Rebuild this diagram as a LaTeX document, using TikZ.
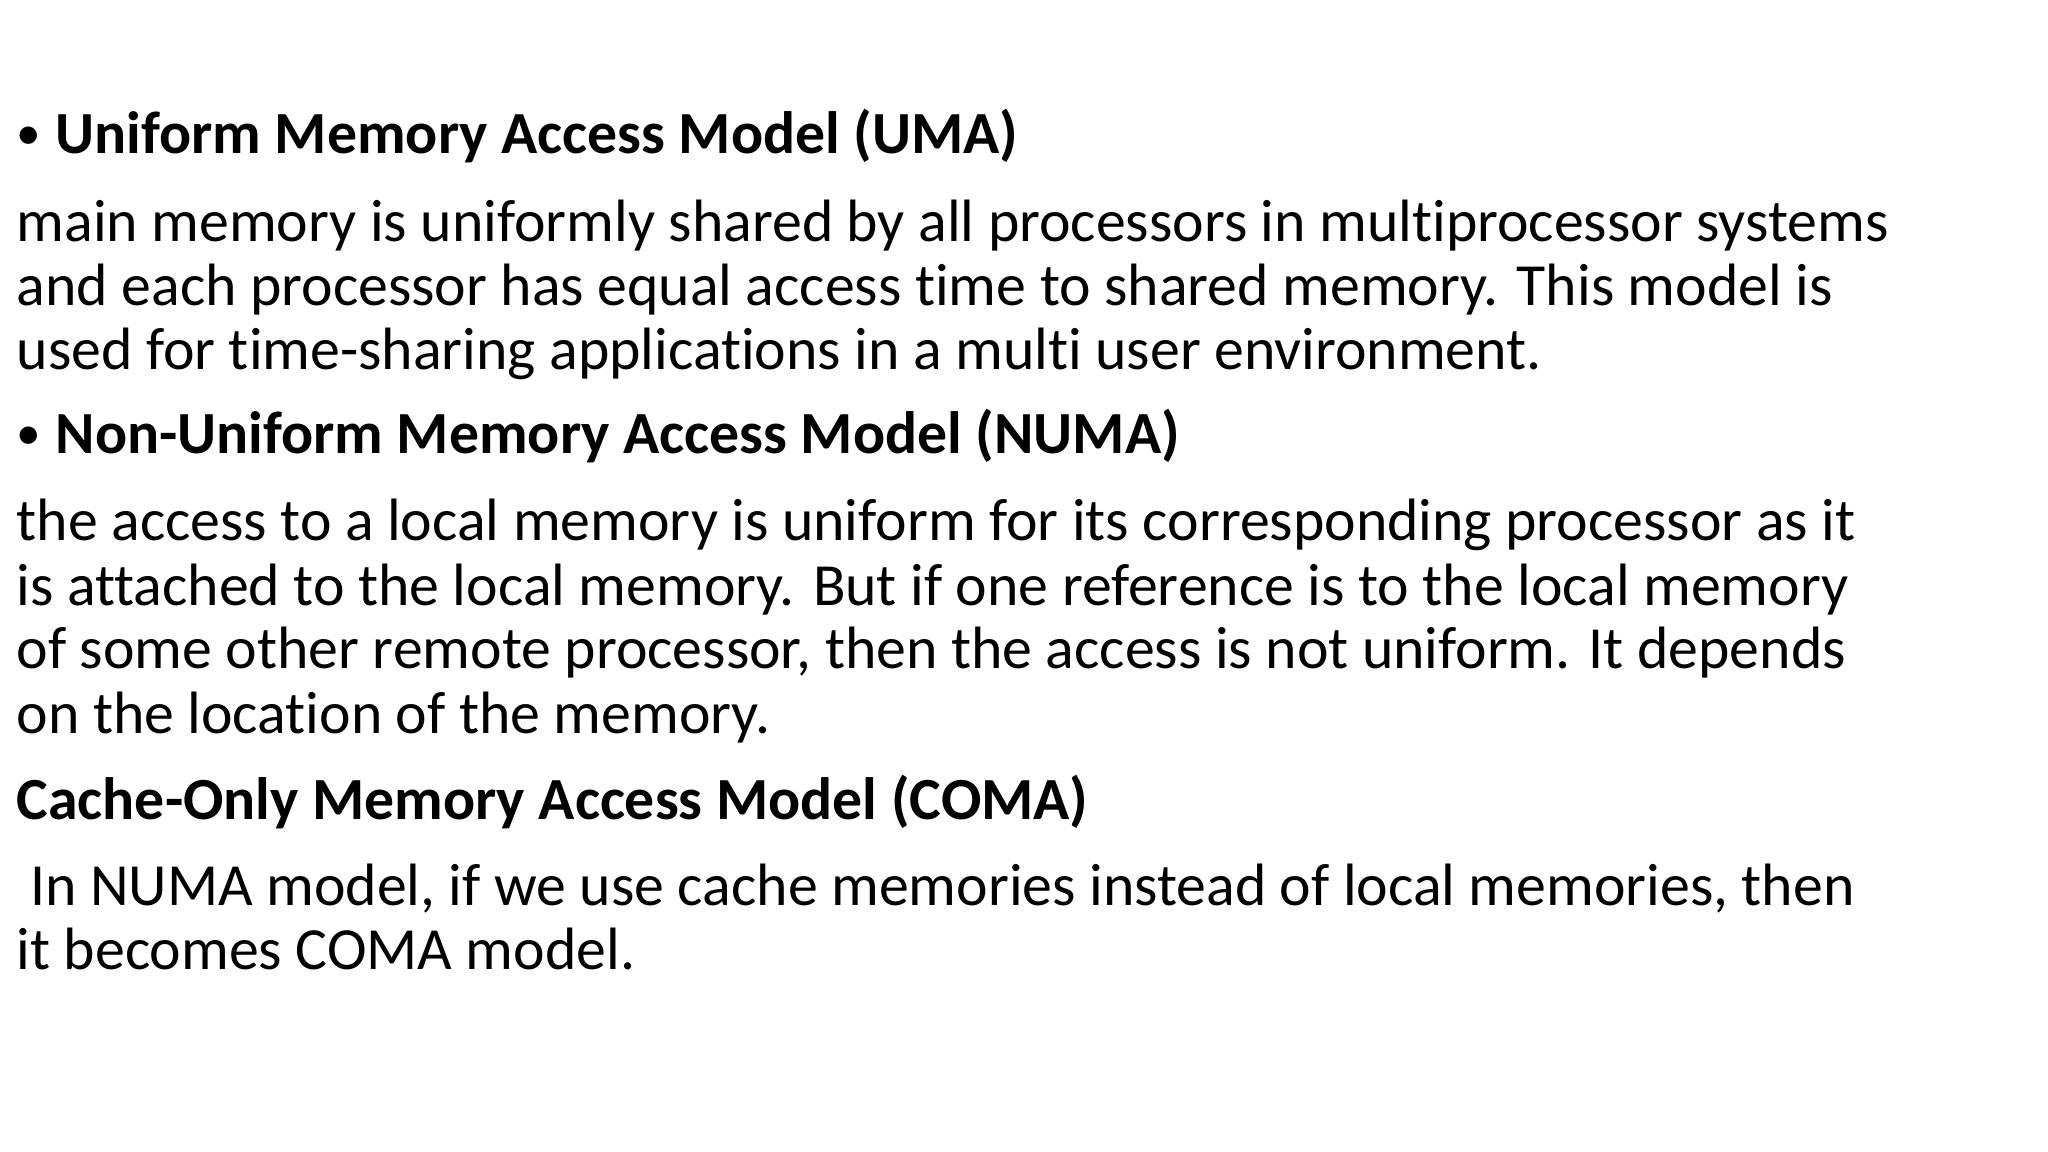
\documentclass[tikz,border=0pt]{standalone}
\usepackage{fontspec}
\setmainfont{Carlito}[Ligatures=NoCommon]
\begin{document}
\begin{tikzpicture}[x=0.01cm,y=-0.01cm,
  ln/.style={anchor=base west,inner sep=0pt,font=\fontsize{17}{19}\selectfont},
  hd/.style={ln,font=\fontsize{17}{19}\selectfont\bfseries},
  bul/.style={anchor=base west,inner sep=0pt,font=\fontsize{14}{16}\selectfont}]
\useasboundingbox[fill=white] (0,0) rectangle (2048,1152);
\node[bul] (b1) at (16,150) {\textbullet};
\node[hd] (h1) at (55,154) {Uniform Memory Access Model (UMA)};
\node[ln] (l1) at (16,242) {main memory is uniformly shared by all processors in multiprocessor systems};
\node[ln] (l2) at (16,306) {and each processor has equal access time to shared memory. This model is};
\node[ln] (l3) at (16,370) {used for time-sharing applications in a multi user environment.};
\node[bul] (b2) at (16,450) {\textbullet};
\node[hd] (h2) at (55,454) {Non-Uniform Memory Access Model (NUMA)};
\node[ln] (l4) at (16,541) {the access to a local memory is uniform for its corresponding processor as it};
\node[ln] (l5) at (16,605) {is attached to the local memory. But if one reference is to the local memory};
\node[ln] (l6) at (16,669) {of some other remote processor, then the access is not uniform. It depends};
\node[ln] (l7) at (16,733) {on the location of the memory.};
\node[hd] (h3) at (16,819) {Cache-Only Memory Access Model (COMA)};
\node[ln] (l8) at (16,905) {\ In NUMA model, if we use cache memories instead of local memories, then};
\node[ln] (l9) at (16,969) {it becomes COMA model.};
\end{tikzpicture}
\end{document}
